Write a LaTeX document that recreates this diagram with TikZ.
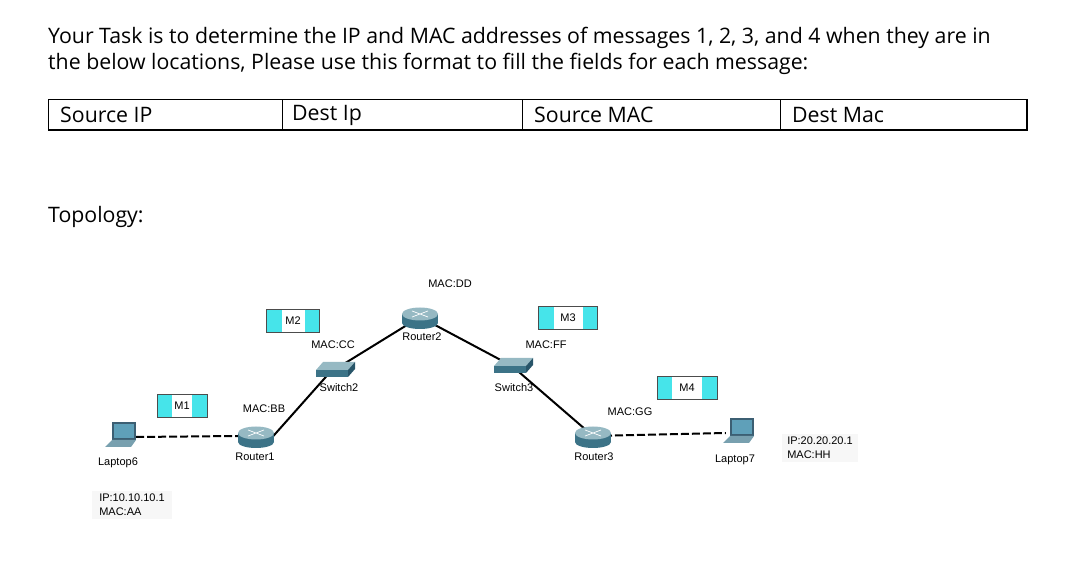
\documentclass[tikz,border=0pt]{standalone}
\usepackage{fontspec}
\setmainfont{Open Sans}
\newfontfamily\lab{Liberation Sans}
\definecolor{mcyan}{RGB}{70,228,234}
\definecolor{rtop}{RGB}{150,185,195}
\definecolor{rside}{RGB}{60,115,135}
\definecolor{rdark}{RGB}{40,85,105}
\definecolor{lscr}{RGB}{95,160,185}
\definecolor{lframe}{RGB}{60,95,115}
\definecolor{lbase}{RGB}{120,160,175}
\begin{document}
\begin{tikzpicture}[x=1pt,y=-1pt,
  lbl/.style={font=\lab\fontsize{11}{13}\selectfont,inner sep=1pt},
  hdr/.style={font=\fontsize{21.3}{25}\selectfont,anchor=west,inner sep=0pt},
  link/.style={line width=2pt},
  dlink/.style={line width=2pt,dash pattern=on 8pt off 3pt},
  dev/.style={minimum width=36pt,minimum height=22pt,inner sep=0pt},
  info/.style={fill=gray!6,align=left,font=\lab\fontsize{11}{14}\selectfont,inner sep=3pt},
  pics/router/.style={code={
    \fill[rside] (-18,-3) rectangle (18,6);
    \fill[rside] (0,6) ellipse (18 and 6);
    \fill[rtop] (0,-3) ellipse (18 and 6.5);
    \draw[white,line width=0.7pt] (-8,-6)--(8,0) (-8,0)--(8,-6);}},
  pics/switch/.style={code={
    \fill[rside] (-18,0) -- (14,0) -- (14,7) -- (-18,7) -- cycle;
    \fill[rtop] (-18,0) -- (-11,-8) -- (21,-8) -- (14,0) -- cycle;
    \fill[rdark] (14,0) -- (21,-8) -- (21,-1) -- (14,7) -- cycle;}},
  pics/laptop/.style={code={
    \fill[lframe] (-10,-15) rectangle (14,3);
    \fill[lscr] (-8,-13) rectangle (12,1);
    \fill[lbase] (-10,3) -- (14,3) -- (9,10) -- (-17,10) -- cycle;}},
  mbox/.style={minimum width=50pt,minimum height=23pt,draw=black!70,inner sep=0pt,font=\lab\fontsize{11}{12}\selectfont,
    path picture={\fill[mcyan] (path picture bounding box.south west) rectangle ([xshift=15pt]path picture bounding box.north west);
      \fill[mcyan] (path picture bounding box.south east) rectangle ([xshift=-15pt]path picture bounding box.north east);}}
]
\useasboundingbox (0,0) rectangle (1080,561);
\node[hdr] (t1) at (48,38) {Your Task is to determine the IP and MAC addresses of messages 1, 2, 3, and 4 when they are in};
\node[hdr] (t2) at (48,64) {the below locations, Please use this format to fill the fields for each message:};
\draw[line width=1pt] (48,100) rectangle (1027,130);
\draw[line width=2.2pt] (48,130) -- (1027,130) -- (1027,100);
\foreach \x in {282,522,780} \draw[line width=1pt] (\x,100) -- (\x,130);
\node[hdr] (c1) at (60,115) {Source IP};
\node[hdr] (c2) at (292,115) {Dest Ip};
\node[hdr] (c3) at (534,115) {Source MAC};
\node[hdr] (c4) at (792,115) {Dest Mac};
\node[hdr] (topo) at (48,217) {Topology:};

\node[dev] (lap6) at (122,437) {};
\node[dev] (r1) at (256,436) {};
\node[dev] (s2) at (334,370) {};
\node[dev] (r2) at (420,317) {};
\node[dev] (s3) at (512,366) {};
\node[dev] (r3) at (593,436) {};
\node[dev] (lap7) at (740,433) {};

\draw[dlink] ([xshift=-4pt]lap6.east) -- (r1.west);
\draw[link] ([xshift=12pt,yshift=-6pt]r1.center) -- ([xshift=-2pt]s2.center);
\draw[link] (s2.center) -- (r2.center);
\draw[link] (r2.center) -- (s3.center);
\draw[link] (s3.center) -- (r3.center);
\draw[dlink] (r3.center) -- ([xshift=4pt]lap7.west);

\pic at (122,437) {laptop};
\pic at (256,436) {router};
\pic at (334,370) {switch};
\pic at (420,317) {router};
\pic at (512,366) {switch};
\pic at (593,436) {router};
\pic at (740,433) {laptop};

\node[lbl] (ll6) at (118,463) {Laptop6};
\node[lbl] (lr1) at (255,457) {Router1};
\node[lbl] (ls2) at (339,388) {Switch2};
\node[lbl] (lr2) at (422,337) {Router2};
\node[lbl] (ls3) at (514,388) {Switch3};
\node[lbl] (lr3) at (594,457) {Router3};
\node[lbl] (ll7) at (735,460) {Laptop7};
\node[lbl] (mbb) at (264,409) {MAC:BB};
\node[lbl] (mcc) at (333,345) {MAC:CC};
\node[lbl] (mdd) at (450,284) {MAC:DD};
\node[lbl] (mff) at (546,345) {MAC:FF};
\node[lbl] (mgg) at (630,412) {MAC:GG};
\node[info,minimum width=80pt] (i1) at (132,505) {IP:10.10.10.1\\MAC:AA};
\node[info,minimum width=76pt] (i2) at (820,448) {IP:20.20.20.1\\MAC:HH};

\node[mbox] (m1) at (182,406) {M1};
\node[mbox,minimum width=53pt] (m2) at (293,321) {M2};
\node[mbox,minimum width=59pt] (m3) at (568,318) {M3};
\node[mbox,minimum width=60pt] (m4) at (687,388) {M4};
\end{tikzpicture}
\end{document}
